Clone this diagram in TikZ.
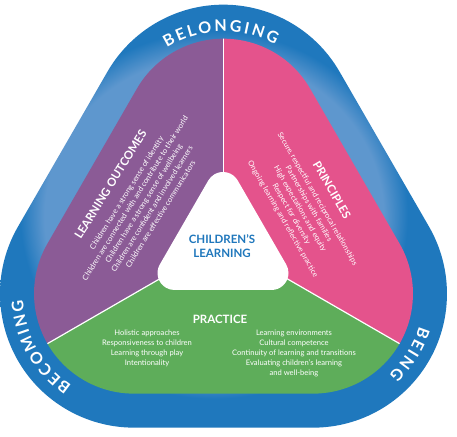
\documentclass[tikz,border=0pt]{standalone}
\usepackage{fontspec}
\setmainfont{Lato}
\usetikzlibrary{calc}
\definecolor{ringblue}{HTML}{1F78BD}
\definecolor{ringlight}{HTML}{5E97CE}
\definecolor{outcomes}{HTML}{8B5B96}
\definecolor{principles}{HTML}{E4538C}
\definecolor{practice}{HTML}{5EAD5A}
\definecolor{centreblue}{HTML}{1F77BC}
\pgfdeclareradialshading{ringglow}{\pgfpoint{0bp}{-3bp}}{color(0bp)=(ringlight); color(18.2bp)=(ringlight); color(20.8bp)=(ringblue); color(30bp)=(ringblue)}
% rounded triangle: #1 centroid, #2 centroid-to-corner-centre, #3 corner radius
\newcommand{\roundtri}[3]{($(#1)+(90:#2)+(30:#3)$) arc[start angle=30, end angle=150, radius=#3pt]
  -- ($(#1)+(210:#2)+(150:#3)$) arc[start angle=150, end angle=270, radius=#3pt]
  -- ($(#1)+(330:#2)+(270:#3)$) arc[start angle=270, end angle=390, radius=#3pt] -- cycle}
\tikzset{
  ringletter/.style={font=\fontsize{16}{16}\selectfont\bfseries, text=white, inner sep=0pt},
  blocktitle/.style={font=\fontsize{11.5}{12}\selectfont\bfseries, text=white, inner sep=0pt},
  blockbody/.style={font=\fontsize{7.6}{10}\selectfont, text=white, align=center, inner sep=0pt},
  centretext/.style={font=\fontsize{11.5}{13.5}\selectfont\bfseries, text=centreblue, align=center, inner sep=0pt},
  divider/.style={draw=white, line width=1.2pt}
}
\begin{document}
\begin{tikzpicture}[x=1pt,y=1pt]
 \useasboundingbox (0,0) rectangle (457,436);
 \fill[white] (0,0) rectangle (457,436);
 \coordinate (c) at (223.5,194);
 \coordinate (ctop) at ($(c)+(90:103.3)$);
 \coordinate (cleft) at ($(c)+(210:103.3)$);
 \coordinate (cright) at ($(c)+(330:103.3)$);
 \coordinate (mid) at (223,191);
 % blue ring
 \shade[shading=ringglow] \roundtri{c}{103.3}{134};
 % three sectors
 \begin{scope}
  \clip \roundtri{c}{103.3}{100};
  \fill[outcomes] (c) -- ($(c)+(90:300)$) -- ($(c)+(150:300)$) -- ($(c)+(210:300)$) -- cycle;
  \fill[principles] (c) -- ($(c)+(90:300)$) -- ($(c)+(30:300)$) -- ($(c)+(330:300)$) -- cycle;
  \fill[practice] (c) -- ($(c)+(210:300)$) -- ($(c)+(270:300)$) -- ($(c)+(330:300)$) -- cycle;
  \coordinate (dtop) at ($(c)+(90:300)$);
  \coordinate (dleft) at ($(c)+(210:300)$);
  \coordinate (dright) at ($(c)+(330:300)$);
  \draw[divider] (c) -- (dtop);
  \draw[divider] (c) -- (dleft);
  \draw[divider] (c) -- (dright);
 \end{scope}
 \fill[white] \roundtri{mid}{56}{17};
 \node[centretext] (centre) at (222,190) {CHILDREN’S\\LEARNING};
 % ring words
 \foreach \ch/\a [count=\i] in {B/119.0,E/112.4,L/106.4,O/99.5,N/91.5,G/83.8,I/78.0,N/72.0,G/64.3}
  \node[ringletter, rotate=\a-90] (belong\i) at ($(ctop)+(\a:113)$) {\ch};
 \foreach \ch/\a [count=\i] in {B/-19.95,E/-26.2,I/-31.0,N/-36.55,G/-43.85}
  \node[ringletter, rotate=\a-90] (being\i) at ($(cright)+(\a:117)$) {\ch};
 \foreach \ch/\a [count=\i] in {B/233.2,E/227.0,C/220.6,O/213.4,M/205.3,I/199.1,N/193.5,G/186.2}
  \node[ringletter, rotate=\a-90] (becom\i) at ($(cleft)+(\a:117)$) {\ch};
 % sector texts
 \node[blocktitle, rotate=58] (lotitle) at (110.5,251.5) {LEARNING OUTCOMES};
 \node[blockbody, rotate=58] (lobody) at (143.5,232.5) {%
   Children have a strong sense of identity\\
   Children are connected with and contribute to their world\\
   Children have a strong sense of wellbeing\\
   Children are confident and involved learners\\
   Children are effective communicators};
 \node[blocktitle, rotate=-60] (prtitle) at (332,246) {PRINCIPLES};
 \node[blockbody, rotate=-60] (prbody) at (300,227) {%
   Secure, respectful and reciprocal relationships\\
   Partnerships with families\\
   High expectations and equity\\
   Respect for diversity\\
   Ongoing learning and reflective practice};
 \node[blocktitle] (pctitle) at (220,117) {PRACTICE};
 \node[blockbody] (pcleft) at (147,88) {%
   Holistic approaches\\
   Responsiveness to children\\
   Learning through play\\
   Intentionality};
 \node[blockbody] (pcright) at (294,82.5) {%
   Learning environments\\
   Cultural competence\\
   Continuity of learning and transitions\\
   Evaluating children’s learning\\
   and well-being};
\end{tikzpicture}
\end{document}
